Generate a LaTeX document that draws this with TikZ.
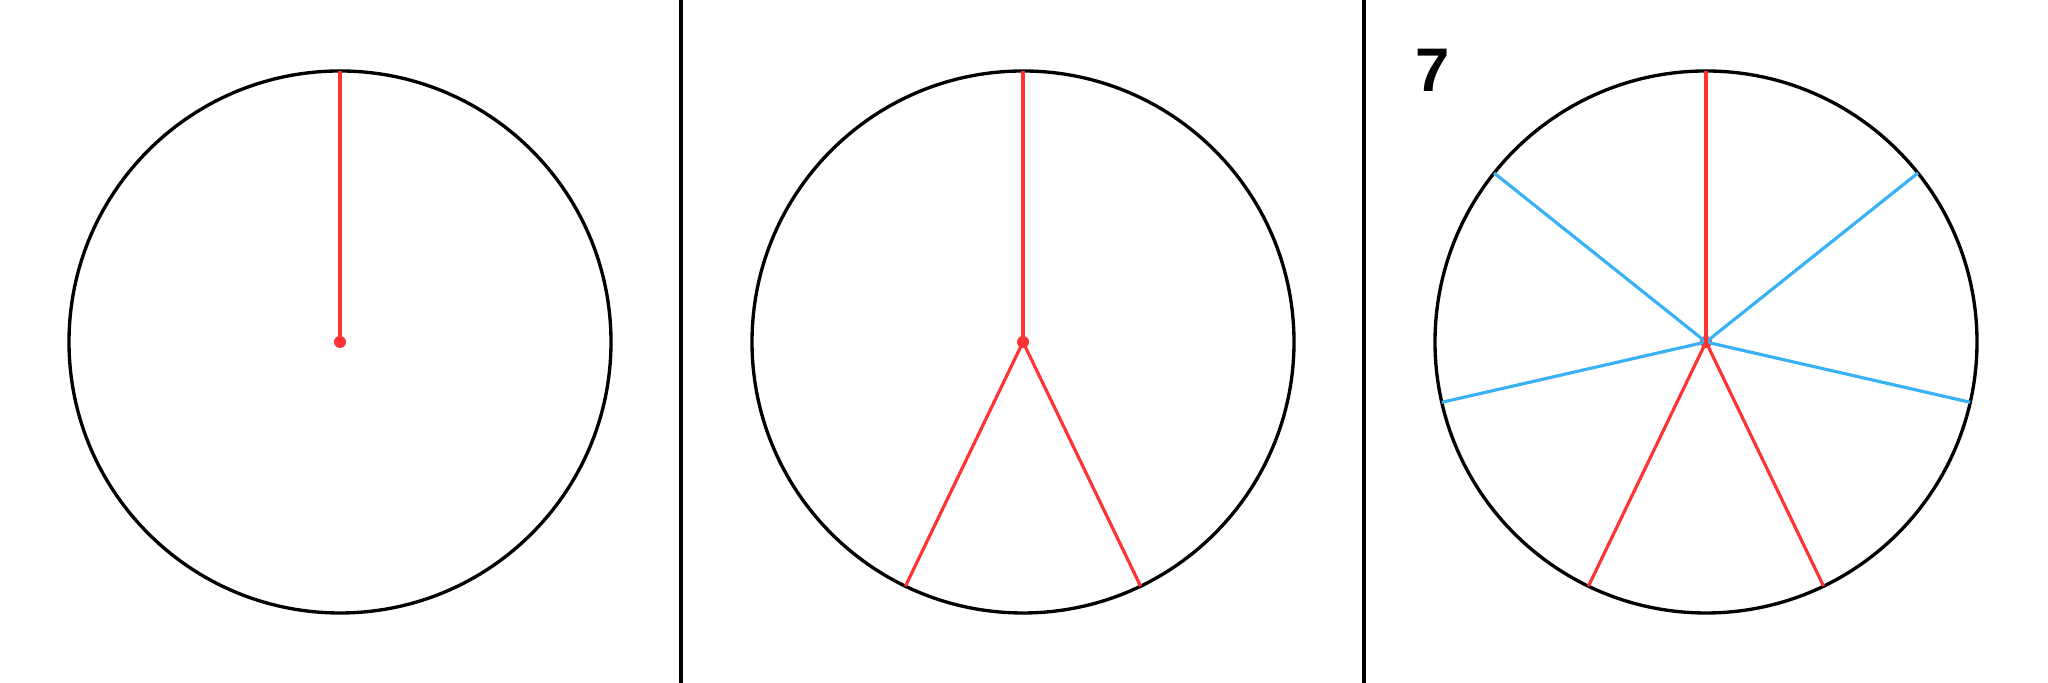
\documentclass[tikz,border=0pt]{standalone}
\usepackage{fontspec}
\setmainfont{Liberation Sans}
\usetikzlibrary{positioning,calc}
\definecolor{spokered}{RGB}{255,51,51}
\definecolor{spokeblue}{RGB}{56,178,245}
\tikzset{
  rim/.style={draw=black,line width=0.95pt},
  redspoke/.style={draw=spokered,line width=0.9pt},
  bluespoke/.style={draw=spokeblue,line width=0.9pt},
  divider/.style={draw=black,line width=0.9pt},
  hub/.style={circle,fill=spokered,inner sep=0pt,minimum size=0.12cm}
}
\begin{document}
\begin{tikzpicture}[x=0.01cm,y=0.01cm]
  \useasboundingbox (0,0) rectangle (2048,683);
  % dividers
  \coordinate (d1t) at (681,683);
  \coordinate (d1b) at (681,0);
  \coordinate (d2t) at (1364,683);
  \coordinate (d2b) at (1364,0);
  \draw[divider] (d1t) -- (d1b);
  \draw[divider] (d2t) -- (d2b);
  % panel one
  \node[hub] (c1) at (340,341) {};
  \draw[rim] (c1.center) circle (271);
  \coordinate (c1top) at ($(c1.center)+(90:271)$);
  \draw[redspoke] (c1.center) -- (c1top);
  % panel two
  \node[hub] (c2) at (1023,341) {};
  \draw[rim] (c2.center) circle (271);
  \foreach \a/\n in {90/a,244.29/b,295.71/c}{
    \coordinate (c2\n) at ($(c2.center)+(\a:271)$);
    \draw[redspoke] (c2.center) -- (c2\n);
  }
  % panel three
  \node[hub] (c3) at (1706,341) {};
  \draw[rim] (c3.center) circle (271);
  \foreach \a/\n in {141.43/d,192.86/e,347.14/f,38.57/g}{
    \coordinate (c3\n) at ($(c3.center)+(\a:271)$);
    \draw[bluespoke] (c3.center) -- (c3\n);
  }
  \foreach \a/\n in {90/a,244.29/b,295.71/c}{
    \coordinate (c3\n) at ($(c3.center)+(\a:271)$);
    \draw[redspoke] (c3.center) -- (c3\n);
  }
  \node[font=\bfseries\fontsize{17.5}{20}\selectfont,inner sep=0pt] (count) at (1433,613) {7};
\end{tikzpicture}
\end{document}
